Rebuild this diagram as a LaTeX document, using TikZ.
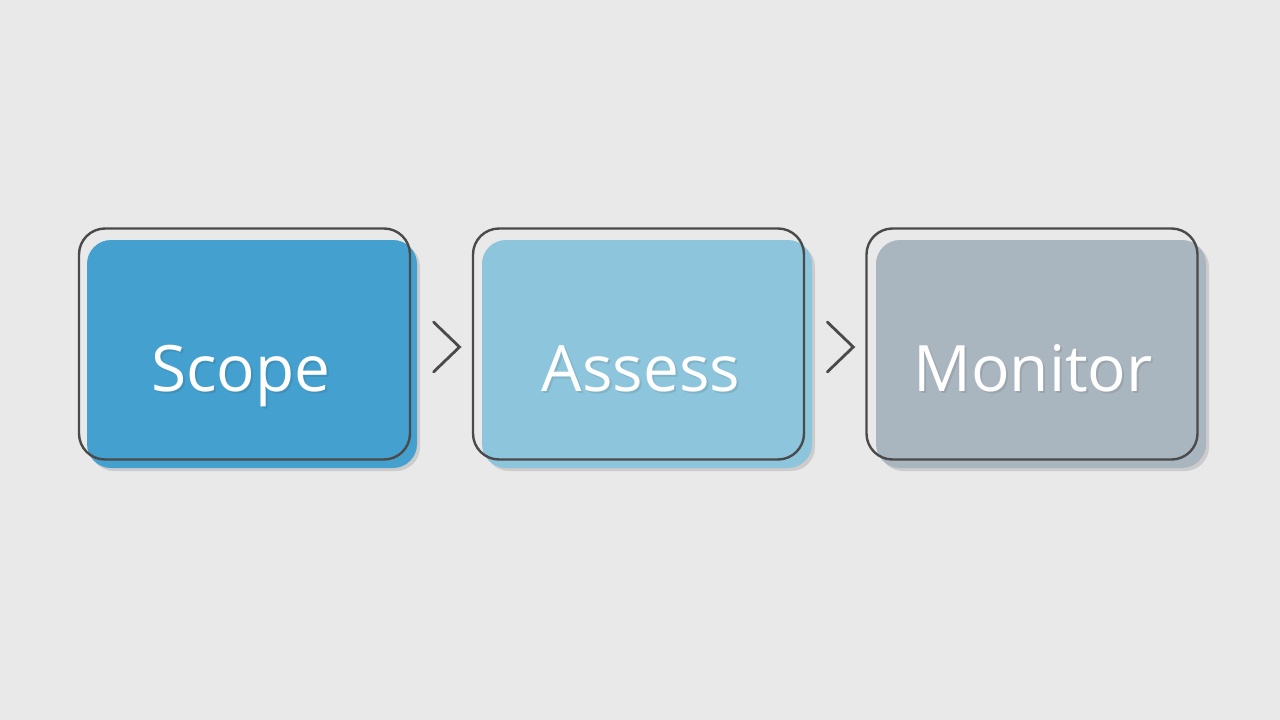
\documentclass[tikz,border=0pt]{standalone}
\usepackage{fontspec}
\setmainfont{Open Sans}
\usetikzlibrary{calc}
\definecolor{bg}{HTML}{E9E9E9}
\definecolor{edge}{HTML}{4A4A4A}
\definecolor{fillA}{HTML}{44A0CE}
\definecolor{fillB}{HTML}{8CC5DC}
\definecolor{fillC}{HTML}{AAB6BF}
\tikzset{
  outlinebox/.style={draw=edge, line width=2.4pt, rounded corners=26pt,
    minimum width=331pt, minimum height=231pt, inner sep=0pt},
  fillbox/.style={rounded corners=24pt, minimum width=330pt, minimum height=228pt, inner sep=0pt},
  shadowbox/.style={fill=black, opacity=0.12, rounded corners=24pt, minimum width=330pt, minimum height=228pt, inner sep=0pt},
  label/.style={text=white, font=\fontsize{64}{70}\selectfont, inner sep=0pt, anchor=base},
  labelshadow/.style={text=black, opacity=0.09, font=\fontsize{64}{70}\selectfont, inner sep=0pt, anchor=base},
  chevron/.style={draw=edge, line width=2.8pt, line cap=round, line join=miter}
}
\begin{document}
\begin{tikzpicture}[x=1pt,y=-1pt]
\fill[bg] (0,0) rectangle (1280,720);
\useasboundingbox (0,0) rectangle (1280,720);
% shadows
\node[shadowbox] (s1) at (255,357) {};
\node[shadowbox] (s2) at (650,357) {};
\node[shadowbox] (s3) at (1044,357) {};
% fills
\node[fillbox, fill=fillA] (f1) at (252,354) {};
\node[fillbox, fill=fillB] (f2) at (647,354) {};
\node[fillbox, fill=fillC] (f3) at (1041,354) {};
% outlines
\node[outlinebox] (b1) at (244.5,344) {};
\node[outlinebox] (b2) at (638.5,344) {};
\node[outlinebox] (b3) at (1032,344) {};
% labels
\node[labelshadow] (t1s) at (243,393) {Scope};
\node[labelshadow] (t2s) at (643,393) {Assess};
\node[labelshadow] (t3s) at (1035,393) {Monitor};
\node[label] (t1) at (241,391) {Scope};
\node[label] (t2) at (641,391) {Assess};
\node[label] (t3) at (1033,391) {Monitor};
% chevrons
\coordinate (c1) at ($(b1.east)!0.5!(b2.west)+(5,3)$);
\coordinate (c2) at ($(b2.east)!0.5!(b3.west)+(5,3)$);
\draw[chevron] ($(c1)+(-13,-25)$) -- ($(c1)+(13,0)$) -- ($(c1)+(-13,25)$);
\draw[chevron] ($(c2)+(-13,-25)$) -- ($(c2)+(13,0)$) -- ($(c2)+(-13,25)$);
\end{tikzpicture}
\end{document}
